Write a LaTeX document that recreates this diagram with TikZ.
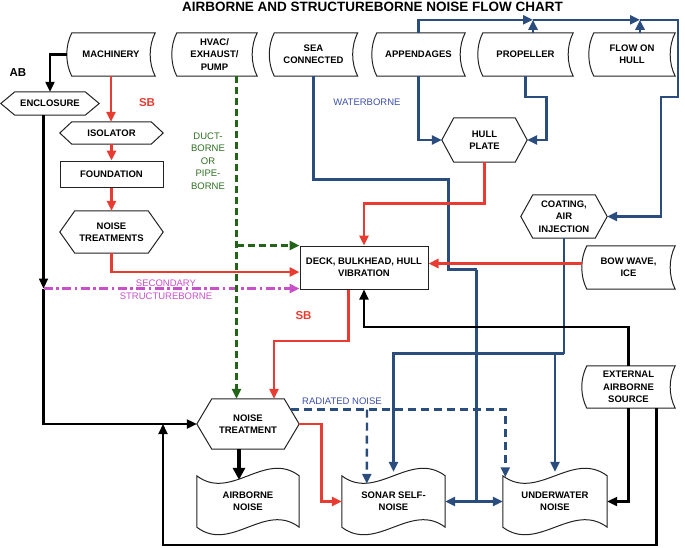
\documentclass[tikz,border=0pt]{standalone}
\usepackage{fontspec}
\setmainfont{Liberation Sans}
\usetikzlibrary{arrows.meta,calc}
\definecolor{cred}{HTML}{E83C32}
\definecolor{cblue}{HTML}{2B4D7D}
\definecolor{cbluetext}{HTML}{3C50AA}
\definecolor{cgreen}{HTML}{236419}
\definecolor{cgreentext}{HTML}{2E6E22}
\definecolor{cmag}{HTML}{C850C8}
\definecolor{cline}{HTML}{222222}
\newcommand\nf{\fontsize{9.5}{12.3}\selectfont\bfseries}
\newcommand\lf{\fontsize{9.5}{12.5}\selectfont}
\newcommand\sdata[1]{\draw[outl] ($(#1.north west)+(5,0)$) .. controls ($(#1.north west)+(-1.7,13)$) and ($(#1.south west)+(-1.7,-13)$) .. ($(#1.south west)+(5,0)$) -- (#1.south east) .. controls ($(#1.south east)+(-6.7,-13)$) and ($(#1.north east)+(-6.7,13)$) .. (#1.north east) -- cycle;}
\newcommand\hexa[2][13]{\draw[outl] ($(#2.north west)+(#1,0)$) -- ($(#2.north east)+(-#1,0)$) -- (#2.east) -- ($(#2.south east)+(-#1,0)$) -- ($(#2.south west)+(#1,0)$) -- (#2.west) -- cycle;}
\newcommand\tapeout[1]{\draw[outl] (#1.north west) .. controls ($(#1.north west)!0.3333!(#1.north east)+(0,26)$) and ($(#1.north west)!0.6667!(#1.north east)+(0,-26)$) .. (#1.north east) -- (#1.south east) .. controls ($(#1.south west)!0.6667!(#1.south east)+(0,-26)$) and ($(#1.south west)!0.3333!(#1.south east)+(0,26)$) .. (#1.south west) -- cycle;}
\tikzset{
  box/.style={rectangle, inner sep=0pt, align=center, font=\nf},
  outl/.style={draw=cline, line width=1pt},
  rectout/.style={draw=cline, line width=1pt},
  tip/.style={-{Triangle[length=10pt,width=9pt]}},
  rl/.style={draw=cred, line width=2.5pt},
  bl/.style={draw=cblue, line width=2.5pt},
  kl/.style={draw=black, line width=2.2pt},
  gl/.style={draw=cgreen, line width=2.4pt, dash pattern=on 7pt off 4pt},
  ml/.style={draw=cmag, line width=2.4pt, dash pattern=on 9pt off 3.5pt on 2.5pt off 3.5pt},
  bd/.style={draw=cblue, line width=2.4pt, dash pattern=on 8pt off 5pt},
  lab/.style={inner sep=0pt, align=center, font=\lf},
  blab/.style={inner sep=0pt, align=center, font=\fontsize{11.5}{13}\selectfont\bfseries},
}
\begin{document}
\begin{tikzpicture}[x=1pt,y=-1pt]
\useasboundingbox (0,0) rectangle (685,547);
% title
\node[inner sep=0pt, font=\fontsize{13.5}{16}\selectfont\bfseries] (title) at (372.5,6.5) {AIRBORNE AND STRUCTUREBORNE NOISE FLOW CHART};
% top row
\node[box, minimum width=88pt, minimum height=43pt] (mach) at (111,54.5) {MACHINERY};
\node[box, minimum width=85pt, minimum height=43pt] (hvac) at (214.5,54.5) {HVAC/\\EXHAUST/\\PUMP};
\node[box, minimum width=88pt, minimum height=43pt] (sea) at (313.5,54.5) {SEA\\CONNECTED};
\node[box, minimum width=93pt, minimum height=43pt] (app) at (418.5,54.5) {APPENDAGES};
\node[box, minimum width=95pt, minimum height=43pt] (prop) at (525.5,54.5) {PROPELLER};
\node[box, minimum width=86pt, minimum height=43pt] (flow) at (632,54.5) {FLOW ON\\HULL};
\foreach \n in {mach,hvac,sea,app,prop,flow} {\sdata{\n}}
% left column
\node[box, minimum width=98pt, minimum height=23pt] (enc) at (50,103.5) {ENCLOSURE};
\hexa[14]{enc}
\node[box, minimum width=103pt, minimum height=22pt] (iso) at (111.5,133) {ISOLATOR};
\hexa[12]{iso}
\node[box, rectout, minimum width=103pt, minimum height=26pt] (found) at (111.5,174) {FOUNDATION};
\node[box, minimum width=103pt, minimum height=42pt] (ntr) at (111.5,232) {NOISE\\TREATMENTS};
\hexa[15]{ntr}
% middle
\node[box, minimum width=85pt, minimum height=44pt] (hull) at (484.5,140) {HULL\\PLATE};
\hexa[12]{hull}
\node[box, minimum width=86pt, minimum height=43pt] (coat) at (564,216.5) {COATING,\\AIR\\INJECTION};
\hexa[12]{coat}
\node[box, rectout, minimum width=128pt, minimum height=43pt] (deck) at (364,267.5) {DECK, BULKHEAD, HULL\\VIBRATION};
\node[box, minimum width=93pt, minimum height=43pt] (bow) at (628.5,267.5) {BOW WAVE,\\ICE};
\sdata{bow}
\node[box, minimum width=93pt, minimum height=42pt] (ext) at (628.5,387) {EXTERNAL\\AIRBORNE\\SOURCE};
\sdata{ext}
\node[box, minimum width=102pt, minimum height=50pt] (nt) at (248,424) {NOISE\\TREATMENT};
\hexa[15]{nt}
% bottom
\node[box, minimum width=102pt, minimum height=51pt] (air) at (248,501.5) {AIRBORNE\\NOISE};
\node[box, minimum width=103pt, minimum height=51pt] (sonar) at (393.5,501.5) {SONAR SELF-\\NOISE};
\node[box, minimum width=104pt, minimum height=51pt] (under) at (555,501.5) {UNDERWATER\\NOISE};
\foreach \n in {air,sonar,under} {\tapeout{\n}}
% labels
\node[blab] (labab) at (18,72.5) {AB};
\node[blab, text=cred] (labsb1) at (147,102.5) {SB};
\node[blab, text=cred] (labsb2) at (303.5,316) {SB};
\node[lab, text=cbluetext] (labwb) at (367,102) {WATERBORNE};
\node[lab, text=cgreentext] (labduct) at (208,161) {DUCT-\\BORNE\\OR\\PIPE-\\BORNE};
\node[lab, text=cmag] (labsec) at (166,289.5) {SECONDARY\\STRUCTUREBORNE};
\node[lab, text=cbluetext] (labrad) at (342,401) {RADIATED NOISE};
% --- connectors ---
% airborne from machinery
\draw[kl,tip] (mach.west) -| (enc.north);
% structureborne chain
\draw[rl,tip] (mach.south) -- (mach.south |- iso.north);
\draw[rl,tip] (iso.south) -- (found.north);
\draw[rl,tip] (found.south) -- (ntr.north);
\draw[rl,tip] (ntr.south) |- ($(deck.west)+(0,4.5)$);
% enclosure line
\coordinate (ab) at (43.5,288.5);
\draw[kl,tip] (enc.south -| ab) -- (ab);
\draw[kl,tip] (ab) |- (nt.west);
\draw[ml,tip] (ab) -- (ab -| deck.west);
% duct-borne
\coordinate (g1) at ($(hvac.south)+(22,0)$);
\draw[gl,tip] (g1) -- (g1 |- nt.north);
\draw[gl,tip] (g1 |- deck.north west) -- (deck.north west);
% waterborne to hull plate
\draw[bl,tip] (app.south) |- (hull.west);
\draw[bl,tip] (prop.south) -- ++(0,21) -- ++(21,0) |- (hull.east);
% top loop to coating
\coordinate (m1) at ($(prop.north)+(7.5,-13)$);
\coordinate (m2) at ($(flow.north)+(8,-13)$);
\draw[bl,tip] (app.north) |- (m1);
\draw[bl,tip] (m1 |- prop.north) -- (m1);
\draw[bl,tip] (m1) -- (m2);
\draw[bl,tip] (m2 |- flow.north) -- (m2);
\draw[bl,tip] (m2) -- ++(38,0) -- ++(0,77) -- ++(-17,0) |- (coat.east);
% sea connected
\draw[bl] (sea.south) -- ++(0,103.5) -- ++(135,0) -- ++(0,90) -- ++(28,0) coordinate (s0);
\draw[bl,tip] (s0) |- (sonar.east);
\draw[bl,tip] (s0) |- (under.west);
% coating down
\draw[bl] (coat.south) -- ++(0,115.5) coordinate (c1);
\draw[bl,tip] (c1) -| ($(sonar.north)+(0,-4)$);
\draw[bl,tip] (c1 -| under.north) -- ($(under.north)+(0,-4)$);
% hull plate to deck
\draw[rl,tip] (hull.south) -- ++(0,41.5) -| (deck.north);
% bow wave
\draw[rl,tip] ($(bow.west)+(0,-4)$) -- ($(deck.east)+(0,-4)$);
% deck to noise treatment
\draw[rl,tip] ($(deck.south)+(-15.5,0)$) -- ++(0,51.5) -| ($(nt.north)+(26,0)$);
% external airborne
\draw[kl,tip] (ext.north) -- ++(0,-38.5) -| (deck.south);
\draw[kl,tip] (ext.south) |- (under.east);
\coordinate (j1) at ($(ab |- nt.west)+(119.5,0)$);
\draw[kl,tip] ($(ext.south)+(28,0)$) -- ++(0,136.5) -| (j1);
% noise treatment outputs
\draw[draw=black, line width=3.2pt, -{Triangle[length=12pt,width=12pt]}] ($(nt.south)+(-9,0)$) -- ($(air.north)+(-9,4)$);
\draw[rl,tip] (nt.east) -- ++(22.5,0) |- (sonar.west);
% radiated noise
\coordinate (rn) at (291,409.5);
\draw[bd,tip] (rn) -| ($(under.north west)+(2.5,1.5)$);
\draw[bd,tip] ($(rn)+(76,0)$) -- ($(sonar.north west)+(25,8)$);
\end{tikzpicture}
\end{document}
